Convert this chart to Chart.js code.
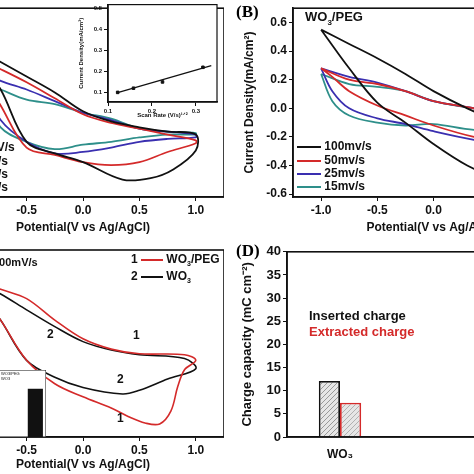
<!DOCTYPE html>
<html><head><meta charset="utf-8">
<script src="https://cdn.jsdelivr.net/npm/chart.js@4.4.1/dist/chart.umd.min.js"></script>
<style>
html,body{margin:0;padding:0;width:474px;height:474px;overflow:hidden;background:#fff;font-family:"Liberation Sans",Arial,sans-serif;}
.c{position:absolute;}
.t{position:absolute;font-weight:bold;color:#111;white-space:nowrap;line-height:1;}
.p{position:absolute;font-family:"Liberation Serif",serif;font-weight:bold;font-size:17px;}
</style></head><body>
<canvas id="A" class="c"></canvas>
<canvas id="AI" class="c"></canvas>
<canvas id="B" class="c"></canvas>
<canvas id="C" class="c"></canvas>
<canvas id="CI" class="c"></canvas>
<canvas id="D" class="c"></canvas>

<div class="t" style="left:-34px;top:141px;font-size:12px">100mV/s</div>
<div class="t" style="left:-34px;top:155px;font-size:12px">50mV/s</div>
<div class="t" style="left:-34px;top:168px;font-size:12px">25mV/s</div>
<div class="t" style="left:-34px;top:181px;font-size:12px">15mV/s</div>

<div class="p" style="left:236px;top:2px">(B)</div>
<div class="t" style="left:305px;top:10px;font-size:13px">WO<sub style="font-size:8px">3</sub>/PEG</div>
<div class="t" style="left:297px;top:140px;font-size:12px"><span style="display:inline-block;width:24px;height:2px;background:#111;vertical-align:middle"></span> 100mv/s</div>
<div class="t" style="left:297px;top:154px;font-size:12px"><span style="display:inline-block;width:24px;height:2px;background:#d42a2a;vertical-align:middle"></span> 50mv/s</div>
<div class="t" style="left:297px;top:167px;font-size:12px"><span style="display:inline-block;width:24px;height:2px;background:#3a2fb0;vertical-align:middle"></span> 25mv/s</div>
<div class="t" style="left:297px;top:180px;font-size:12px"><span style="display:inline-block;width:24px;height:2px;background:#2e8f8a;vertical-align:middle"></span> 15mv/s</div>

<div class="t" style="left:-7px;top:257px;font-size:11px">100mV/s</div>
<div class="t" style="left:131px;top:253px;font-size:12px">1 <span style="display:inline-block;width:22px;height:1.5px;background:#d42a2a;vertical-align:middle"></span> WO<sub style="font-size:7px">3</sub>/PEG</div>
<div class="t" style="left:131px;top:270px;font-size:12px">2 <span style="display:inline-block;width:22px;height:1.5px;background:#111;vertical-align:middle"></span> WO<sub style="font-size:7px">3</sub></div>
<div class="t" style="left:133px;top:329px;font-size:12px">1</div>
<div class="t" style="left:47px;top:328px;font-size:12px">2</div>
<div class="t" style="left:117px;top:373px;font-size:12px">2</div>
<div class="t" style="left:117px;top:412px;font-size:12px">1</div>
<div class="t" style="left:1px;top:372px;font-size:4px;font-weight:normal">WO3/PEG</div>
<div class="t" style="left:1px;top:377px;font-size:4px;font-weight:normal">WO3</div>

<div class="p" style="left:236px;top:241px">(D)</div>
<div class="t" style="left:309px;top:309px;font-size:13px">Inserted charge</div>
<div class="t" style="left:309px;top:325px;font-size:13px;color:#d42a2a">Extracted charge</div>

<script>
// ---------- data ----------
// Panel A (WO3, scan rates)
const A_black_V = [-1.0,-0.73,-0.5,-0.25,0,0.25,0.5,0.75,1.0, 1.0,0.8,0.6,0.35,0,-0.25,-0.5,-0.73,-1.0];
const A_black_I = [0.45,0.33,0.23,0.12,-0.01,-0.08,-0.12,-0.15,-0.17, -0.28,-0.41,-0.47,-0.48,-0.36,-0.30,-0.22,0.14,0.45];
const A_red_V = [-1.0,-0.73,-0.5,-0.25,0,0.25,0.5,0.75,1.0, 1.0,0.75,0.5,0.25,0,-0.25,-0.5,-0.73,-1.0];
const A_red_I = [0.38,0.28,0.19,0.08,-0.03,-0.09,-0.13,-0.17,-0.21, -0.23,-0.29,-0.36,-0.38,-0.36,-0.31,-0.26,0.03,0.38];
const A_blue_V = [-1.0,-0.73,-0.5,-0.25,0,0.25,0.5,0.75,1.0, 1.0,0.75,0.5,0.25,0,-0.25,-0.5,-0.73,-1.0];
const A_blue_I = [0.30,0.20,0.14,0.06,-0.02,-0.07,-0.13,-0.15,-0.17, -0.19,-0.20,-0.22,-0.26,-0.29,-0.30,-0.22,-0.07,0.30];
const A_green_V = [-1.0,-0.73,-0.5,-0.25,0,0.25,0.5,0.75,1.0, 1.0,0.75,0.5,0.25,0,-0.25,-0.5,-0.73,-1.0];
const A_green_I = [0.22,0.14,0.07,0.04,-0.02,-0.06,-0.13,-0.15,-0.16, -0.17,-0.17,-0.19,-0.22,-0.24,-0.27,-0.22,-0.12,0.22];
// inset A
const AI_rate = [0.122,0.158,0.224,0.316];
const AI_peak = [0.10,0.12,0.15,0.22];
const AI_fitX = [0.12,0.335];
const AI_fitY = [0.098,0.228];
// Panel B (WO3/PEG)
const B_black_V = [-1.0,-0.75,-0.5,-0.25,0,0.3,0.6,1.0, 1.0,0.6,0.3,0,-0.25,-0.5,-0.75,-1.0];
const B_black_I = [0.55,0.45,0.35,0.24,0.12,0.0,-0.1,-0.2, -0.6,-0.5,-0.4,-0.25,-0.1,0.04,0.28,0.55];
const B_red_V = [-1.0,-0.75,-0.5,-0.25,0,0.36,1.0, 1.0,0.36,0,-0.25,-0.5,-0.75,-0.9,-1.0];
const B_red_I = [0.28,0.20,0.17,0.12,0.05,0.0,-0.1, -0.3,-0.2,-0.12,-0.05,0.02,0.12,0.22,0.28];
const B_blue_V = [-1.0,-0.75,-0.5,-0.25,0,0.36,1.0, 1.0,0.36,0,-0.25,-0.5,-0.75,-0.9,-1.0];
const B_blue_I = [0.28,0.22,0.18,0.12,0.05,0.0,-0.1, -0.3,-0.22,-0.16,-0.11,-0.07,0.0,0.12,0.28];
const B_green_V = [-1.0,-0.75,-0.5,-0.25,0,0.36,1.0, 1.0,0.36,0,-0.25,-0.5,-0.75,-0.9,-1.0];
const B_green_I = [0.24,0.17,0.15,0.12,0.05,0.0,-0.05, -0.15,-0.15,-0.11,-0.12,-0.10,-0.05,0.05,0.24];
// Panel C (100 mV/s comparison)
const C_peg_V = [-1.0,-0.73,-0.5,-0.25,0,0.25,0.5,0.9,1.0, 0.9,0.84,0.78,0.68,0.55,0.4,0.25,0,-0.25,-0.5,-0.73,-1.0];
const C_peg_I = [0.70,0.58,0.48,0.25,0.05,-0.06,-0.11,-0.12,-0.18, -0.28,-0.46,-0.72,-0.86,-0.85,-0.78,-0.69,-0.57,-0.43,-0.18,0.25,0.70];
const C_wo3_V = [-1.0,-0.73,-0.5,-0.25,0,0.25,0.5,0.9,1.0, 0.75,0.5,0.35,0,-0.25,-0.5,-0.73,-1.0];
const C_wo3_I = [0.70,0.53,0.36,0.18,0.02,-0.07,-0.12,-0.16,-0.27, -0.38,-0.50,-0.54,-0.47,-0.36,-0.18,0.25,0.70];
// inset C
const CI_pos = [1,2];
const CI_val = [0.95,0.72];
// Panel D (charge capacity)
const D_samples = ['WO₃','WO₃/PEG'];
const D_pos = [0,1];
const D_inserted = [12.1,26];
const D_extracted = [7.4,21];

const potTicks = [-1.0,-0.5,0.0,0.5,1.0];
const curTicks = [-0.6,-0.4,-0.2,0.0,0.2,0.4,0.6];
const capTicks = [0,5,10,15,20,25,30,35,40];

// ---------- helpers ----------
const FONT = "Liberation Sans";
const col = {k:'#111111', r:'#d42a2a', b:'#3a2fb0', g:'#2e8f8a'};
const pts = (xs,ys)=>xs.map((x,i)=>({x, y:ys[i]}));
function place(id,L,T,W,H){const c=document.getElementById(id);c.style.left=L+'px';c.style.top=T+'px';c.style.width=W+'px';c.style.height=H+'px';c.width=W;c.height=H;return c;}
const boxPlugin = {id:'box', beforeDraw(ch,a,o){ if(o.fill){const c=ch.chartArea;ch.ctx.save();ch.ctx.fillStyle='#fff';ch.ctx.fillRect(c.left,c.top,c.right-c.left,c.bottom-c.top);ch.ctx.restore();}},
  afterDraw(ch,a,o){const c=ch.chartArea,x=ch.ctx;x.save();x.strokeStyle='#111';x.lineWidth=o.w||1.6;x.strokeRect(c.left,c.top,c.right-c.left,c.bottom-c.top);x.restore();}};
Chart.register(boxPlugin);
function lin(min,max,ticks,size,fs,title,titleSize,fmt){
  return {type:'linear',min,max,offset:false,
    afterBuildTicks:s=>{s.ticks=ticks.map(v=>({value:v}));},
    afterFit:s=>{ if(s.isHorizontal()) s.height=size; else s.width=size; },
    border:{display:true,color:'#111',width:1.6},
    grid:{display:true,drawOnChartArea:false,tickLength:4,color:'#111',offset:false},
    ticks:{color:'#111',font:{family:FONT,weight:'bold',size:fs},padding:2,callback:fmt||(v=>v.toFixed(1))},
    title:{display:!!title,text:title,color:'#111',font:{family:FONT,weight:'bold',size:titleSize||12},padding:{top:2,bottom:2}}};
}
function line(label,xs,ys,c,w){return {label,data:pts(xs,ys),borderColor:c,borderWidth:w||1.8,pointRadius:0,showLine:true,tension:0.35,fill:false};}
const base = {responsive:false,animation:false,devicePixelRatio:1,layout:{padding:0},plugins:{legend:{display:false},tooltip:{enabled:false}}};

// ---------- Panel A ----------
place('A',-110,-1,334,238);
new Chart('A',{type:'scatter',data:{datasets:[
  line('100mV/s',A_black_V,A_black_I,col.k),line('50mV/s',A_red_V,A_red_I,col.r),
  line('25mV/s',A_blue_V,A_blue_I,col.b),line('15mV/s',A_green_V,A_green_I,col.g)]},
  options:{...base,scales:{x:lin(-1.25,1.25,potTicks,40,12,'Potential(V vs Ag/AgCl)',12),y:lin(-0.6,0.7,curTicks,52,12,'Current Density(mA/cm²)')}}});

place('AI',76,-1,146,122);
new Chart('AI',{type:'scatter',data:{datasets:[
  {data:pts(AI_rate,AI_peak),pointRadius:1.8,pointStyle:'rect',backgroundColor:'#111',borderColor:'#111',showLine:false},
  {data:pts(AI_fitX,AI_fitY),borderColor:'#111',borderWidth:1.2,pointRadius:0,showLine:true}]},
  options:{...base,plugins:{...base.plugins,box:{fill:true,w:1.2}},scales:{
    x:lin(0.1,0.348,[0.1,0.2,0.3],19,6,'Scan Rate (V/s)¹ᐟ²',6),
    y:lin(0.054,0.52,[0.1,0.2,0.3,0.4,0.5],32,6,'Current Density(mA/cm²)',6)}}});

// ---------- Panel B ----------
place('B',240,-1,334,238);
new Chart('B',{type:'scatter',data:{datasets:[
  line('100mv/s',B_black_V,B_black_I,col.k),line('50mv/s',B_red_V,B_red_I,col.r),
  line('25mv/s',B_blue_V,B_blue_I,col.b),line('15mv/s',B_green_V,B_green_I,col.g)]},
  options:{...base,scales:{x:lin(-1.25,1.25,potTicks,40,12,'Potential(V vs Ag/AgCl)',12),y:lin(-0.62,0.7,curTicks,53,12,'Current Density(mA/cm²)',12)}}});

// ---------- Panel C ----------
place('C',-110,242,334,232);
new Chart('C',{type:'scatter',data:{datasets:[
  line('WO3/PEG',C_peg_V,C_peg_I,col.r,1.6),line('WO3',C_wo3_V,C_wo3_I,col.k,1.6)]},
  options:{...base,scales:{x:lin(-1.25,1.25,potTicks,37,12,'Potential(V vs Ag/AgCl)',12),y:lin(-1,1,[-1,0,1],52,10,'Current Density')}}});

place('CI',-60,370,106,67);
new Chart('CI',{type:'bar',data:{datasets:[
  {data:pts(CI_pos,CI_val),backgroundColor:['#d42a2a','#111'],borderColor:'#111',borderWidth:0,categoryPercentage:0.27,barPercentage:1}]},
  options:{...base,plugins:{...base.plugins,box:{fill:true,w:1}},scales:{
    x:{type:'linear',min:0.3,max:2.19,offset:false,display:false,afterFit:s=>{s.height=0}},
    y:{type:'linear',min:0,max:1,display:false,afterFit:s=>{s.width=0}}}}});

// ---------- Panel D ----------
function hatch(c){const p=document.createElement('canvas');p.width=p.height=5;const x=p.getContext('2d');x.fillStyle='#e6e6e6';x.fillRect(0,0,5,5);x.strokeStyle=c;x.lineWidth=0.7;x.beginPath();x.moveTo(0,5);x.lineTo(5,0);x.stroke();return x.createPattern(p,'repeat');}
place('D',238,242,473,232);
new Chart('D',{type:'bar',data:{datasets:[
  {label:'Inserted charge',data:pts(D_pos,D_inserted),backgroundColor:hatch('#777'),borderColor:'#111',borderWidth:1.8,borderSkipped:'bottom',categoryPercentage:0.2,barPercentage:1},
  {label:'Extracted charge',data:pts(D_pos,D_extracted),backgroundColor:hatch('#999'),borderColor:'#d42a2a',borderWidth:1.8,borderSkipped:'bottom',categoryPercentage:0.2,barPercentage:1}]},
  options:{...base,scales:{
    x:{...lin(-0.25,1.75,D_pos,37,12,'',12,v=>D_samples[v]),grid:{display:false,offset:false}},
    y:lin(0,40,capTicks,49,13,'Charge capacity (mC cm⁻²)',13,v=>String(v))}}});
</script>
</body></html>
